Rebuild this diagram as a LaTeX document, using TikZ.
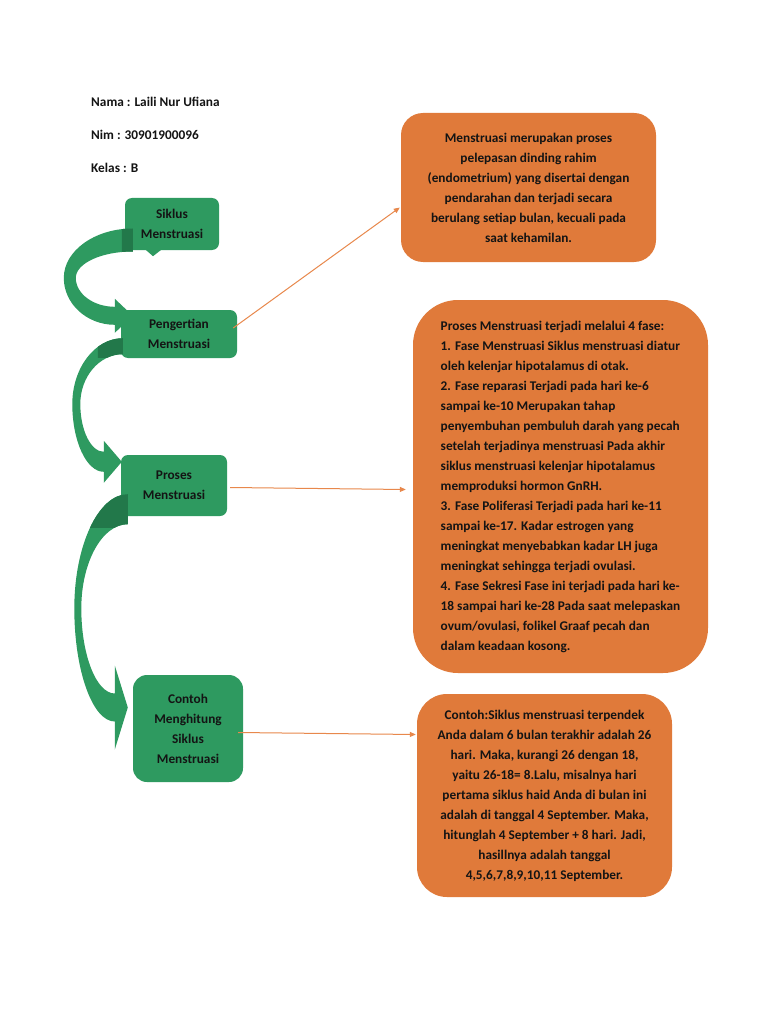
\documentclass[tikz,border=0pt]{standalone}
\usepackage{fontspec}
\setmainfont{Carlito}
\usetikzlibrary{calc,arrows.meta}
\definecolor{leaf}{HTML}{2E9A60}
\definecolor{leafdark}{HTML}{22784A}
\definecolor{rust}{HTML}{E07A3A}
\definecolor{rustline}{HTML}{E8884C}
\definecolor{ink}{HTML}{141414}
% filled band of a bent arrow, built on the named points set by \bendarrow
\newcommand{\bendband}[1]{%
    \fill[#1]
      (so) .. controls ($(so)!0.55!(co1)$) and ($(mo)!0.55!(co1)$) .. (mo)
           .. controls ($(mo)!0.55!(co2)$) and ($(eo)!0.55!(co2)$) .. (eo)
      -- (hb) -- (tp) -- (ht) -- (ei)
           .. controls ($(ei)!0.55!(ci2)$) and ($(mi)!0.55!(ci2)$) .. (mi)
           .. controls ($(mi)!0.55!(ci1)$) and ($(si)!0.55!(ci1)$) .. (si)
      -- cycle;%
}
% #1 start, #2 tip, #3 bulge, #4/#5/#6 half width at start/middle/end,
% #7 head half height, #8 head length, #9 length of the dark back face
\newcommand{\bendarrow}[9]{%
    \coordinate (so) at ($(#1)+(0,-#4)$);
    \coordinate (si) at ($(#1)+(0,#4)$);
    \coordinate (bm) at ($(#1)!0.5!(#2)+(-#3,0)$);
    \coordinate (mo) at ($(bm)+(-#5,0)$);
    \coordinate (mi) at ($(bm)+(#5,0)$);
    \coordinate (tp) at (#2);
    \coordinate (bb) at ($(#2)+(-#8,0)$);
    \coordinate (eo) at ($(bb)+(0,#6)$);
    \coordinate (ei) at ($(bb)+(0,-#6)$);
    \coordinate (hb) at ($(bb)+(0,#7)$);
    \coordinate (ht) at ($(bb)+(0,-#7)$);
    \coordinate (co1) at (mo |- so);
    \coordinate (co2) at (mo |- eo);
    \coordinate (ci1) at (mi |- si);
    \coordinate (ci2) at (mi |- ei);
    \bendband{leaf}
    \begin{scope}
      \clip ($(#1)+(-#9,-40)$) rectangle ($(#1)+(3,#4+3)$);
      \bendband{leafdark}
    \end{scope}%
}
\tikzset{
  stepbox/.style={fill=leaf, rounded corners=7pt, align=center},
  notebox/.style={fill=rust, align=center},
  link/.style={draw=rustline, line width=1pt,
    -{Triangle[length=6pt,width=5pt]}},
}

\begin{document}
\begin{tikzpicture}[x=1pt, y=-1pt, every node/.style={inner sep=0pt,
    text=ink, font=\fontsize{13.3}{20}\selectfont\bfseries}]

\fill[white] (0,0) rectangle (768,1024);
\useasboundingbox (0,0) rectangle (768,1024);

% student data
\node[anchor=base west] (nama)  at (91,107) {Nama : Laili Nur Ufiana};
\node[anchor=base west] (nim)   at (91,140) {Nim : 30901900096};
\node[anchor=base west] (kelas) at (91,173) {Kelas : B};

% green steps on the left
\node[stepbox, minimum width=94pt, minimum height=52pt] (siklus)
  at (172,224) {Siklus\\Menstruasi};
\fill[leaf] ($(siklus.south)+(-27,-1)$) -- ($(siklus.south)+(-19,6)$)
  -- ($(siklus.south)+(-10,-1)$) -- cycle;
\node[stepbox, minimum width=116pt, minimum height=48pt] (peng)
  at (179,334) {Pengertian\\Menstruasi};
\node[stepbox, minimum width=106pt, minimum height=61pt] (proses)
  at (174,485.5) {Proses\\Menstruasi};
\node[stepbox, rounded corners=14pt, minimum width=110pt,
  minimum height=107pt] (contoh)
  at (188,728.5) {Contoh\\Menghitung\\Siklus\\Menstruasi};

% orange notes on the right
\node[notebox, rounded corners=22pt, minimum width=255pt,
  minimum height=149pt] (defn) at (528.5,187.5)
  {Menstruasi merupakan proses\\
   pelepasan dinding rahim\\
   (endometrium) yang disertai dengan\\
   pendarahan dan terjadi secara\\
   berulang setiap bulan, kecuali pada\\
   saat kehamilan.};
\node[notebox, align=left, rounded corners=45pt, minimum width=295pt,
  minimum height=373pt] (fases) at (560.5,486.5)
  {Proses Menstruasi terjadi melalui 4 fase:\\
   1. Fase Menstruasi Siklus menstruasi diatur\\
   oleh kelenjar hipotalamus di otak.\\
   2. Fase reparasi Terjadi pada hari ke-6\\
   sampai ke-10 Merupakan tahap\\
   penyembuhan pembuluh darah yang pecah\\
   setelah terjadinya menstruasi Pada akhir\\
   siklus menstruasi kelenjar hipotalamus\\
   memproduksi hormon GnRH.\\
   3. Fase Poliferasi Terjadi pada hari ke-11\\
   sampai ke-17. Kadar estrogen yang\\
   meningkat menyebabkan kadar LH juga\\
   meningkat sehingga terjadi ovulasi.\\
   4. Fase Sekresi Fase ini terjadi pada hari ke-\\
   18 sampai hari ke-28 Pada saat melepaskan\\
   ovum/ovulasi, folikel Graaf pecah dan\\
   dalam keadaan kosong.};
\node[notebox, rounded corners=30pt, minimum width=255pt,
  minimum height=203pt] (hitung) at (544.5,795.5)
  {Contoh:Siklus menstruasi terpendek\\
   Anda dalam 6 bulan terakhir adalah 26\\
   hari. Maka, kurangi 26 dengan 18,\\
   yaitu 26-18= 8.Lalu, misalnya hari\\
   pertama siklus haid Anda di bulan ini\\
   adalah di tanggal 4 September. Maka,\\
   hitunglah 4 September + 8 hari. Jadi,\\
   hasillnya adalah tanggal\\
   4,5,6,7,8,9,10,11 September.};

% bent green arrows between the steps
\coordinate (s1) at ($(siklus.west)+(8,16)$);
\coordinate (t1) at ($(peng.north west)+(12,6)$);
\bendarrow{s1}{t1}{63}{11.5}{6}{9}{17}{18}{11}
\coordinate (s2) at ($(peng.south west)+(2,-12)$);
\coordinate (t2) at ($(proses.north west)+(1,7)$);
\bendarrow{s2}{t2}{46}{8}{4}{10}{21}{18}{25}
\coordinate (s3) at ($(proses.south west)+(7,-7)$);
\coordinate (t3) at ($(contoh.west)+(-5,-21)$);
\bendarrow{s3}{t3}{50}{15}{3.5}{14}{42}{13}{40}

% thin orange links to the notes
\draw[link] ($(peng.east)+(-4,-6)$) -- ($(defn.west)+(-1,20)$);
\draw[link] ($(proses.east)+(3,2)$) -- ($(fases.west)+(-7,3)$);
\coordinate (c3) at (contoh.east -| hitung.west);
\draw[link] ($(contoh.east)+(-5,4)$) -- ($(c3)+(-1,6)$);

\end{tikzpicture}
\end{document}
